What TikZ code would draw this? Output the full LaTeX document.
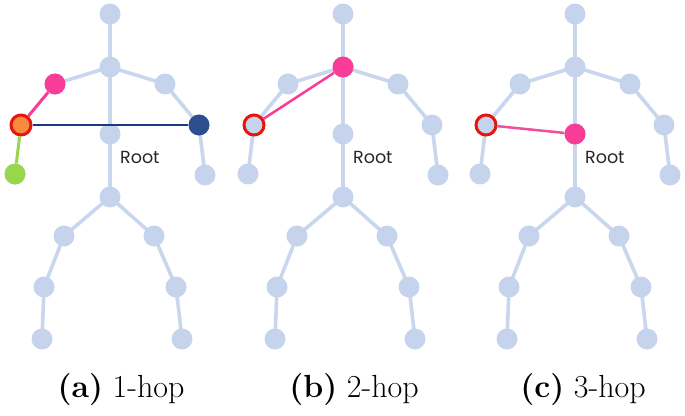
\documentclass[tikz,border=0pt]{standalone}
\usepackage{fontspec}
\newfontfamily\rootfont{Poppins}
\usetikzlibrary{backgrounds}
\definecolor{jointc}{HTML}{C5D4EC}
\definecolor{bonec}{HTML}{C8D6EE}
\definecolor{pinkc}{HTML}{F83D98}
\definecolor{orangec}{HTML}{F58B3C}
\definecolor{redc}{HTML}{E8150F}
\definecolor{navyn}{HTML}{2C4E8E}
\definecolor{navyl}{HTML}{1B3882}
\definecolor{greenc}{HTML}{98D64C}
\definecolor{pinkl}{HTML}{EE4F9C}
\tikzset{
  joint/.style={circle, fill=jointc, minimum size=21pt, inner sep=0pt},
  hlring/.style={circle, draw=redc, line width=3pt, minimum size=20pt, inner sep=0pt},
  bone/.style={draw=bonec, line width=3.6pt},
  rootlbl/.style={font=\rootfont\fontsize{17.5}{20}\selectfont, text=black!85, anchor=west, inner sep=0pt},
  caplbl/.style={font=\fontsize{32}{38}\selectfont, anchor=base, inner sep=0pt},
}
% #1 prefix, #2 x of spine
\newcommand\skelnodes[2]{%
  \node[joint] (#1head) at (#2+0,14) {};
  \node[joint] (#1neck) at (#2+0,67) {};
  \node[joint] (#1lsh)  at (#2-55,84) {};
  \node[joint] (#1rsh)  at (#2+55,84) {};
  \node[joint] (#1rel)  at (#2+89,125) {};
  \node[joint] (#1lha)  at (#2-95,174) {};
  \node[joint] (#1rha)  at (#2+95,175) {};
  \node[joint] (#1root) at (#2+0,134) {};
  \node[joint] (#1hip)  at (#2+0,197) {};
  \node[joint] (#1lkn)  at (#2-46,236) {};
  \node[joint] (#1rkn)  at (#2+44,236) {};
  \node[joint] (#1lan)  at (#2-66,287) {};
  \node[joint] (#1ran)  at (#2+66,287) {};
  \node[joint] (#1lft)  at (#2-68,339) {};
  \node[joint] (#1rft)  at (#2+72,339) {};
  \node[rootlbl] (#1txt) at (#2+10,157) {Root};
}
\newcommand\skelbones[1]{%
  \begin{scope}[on background layer]
    \draw[bone] (#1head.center) -- (#1neck.center) -- (#1root.center) -- (#1hip.center);
    \draw[bone] (#1neck.center) -- (#1lsh.center);
    \draw[bone] (#1neck.center) -- (#1rsh.center) -- (#1rel.center) -- (#1rha.center);
    \draw[bone] (#1hip.center) -- (#1lkn.center) -- (#1lan.center) -- (#1lft.center);
    \draw[bone] (#1hip.center) -- (#1rkn.center) -- (#1ran.center) -- (#1rft.center);
  \end{scope}
}
\begin{document}
\begin{tikzpicture}[x=1pt,y=-1pt]
\useasboundingbox (0,0) rectangle (685,415);
% ---------- (a) ----------
\skelnodes{a}{110}
\node[hlring, fill=orangec] (alel) at (110-89,125) {};
\skelbones{a}
\node[joint, fill=pinkc] at (alsh) {};
\node[joint, fill=greenc] at (alha) {};
\node[joint, fill=navyn] at (arel) {};
\draw[pinkc, line width=3pt] (alsh) -- (alel);
\draw[greenc, line width=3pt] (alel) -- (alha);
\draw[navyl, line width=2.5pt] (alel) -- (arel);
\node[caplbl] (capa) at (121,397) {\textbf{(a)} 1-hop};
% ---------- (b) ----------
\skelnodes{b}{343}
\node[hlring, fill=jointc] (blel) at (343-89,125) {};
\skelbones{b}
\begin{scope}[on background layer]
  \draw[bone] (blsh.center) -- (blel.center) -- (blha.center);
\end{scope}
\node[joint, fill=pinkc] at (bneck) {};
\draw[pinkc, line width=2.5pt] (bneck) -- (blel);
\node[caplbl] (capb) at (354,397) {\textbf{(b)} 2-hop};
% ---------- (c) ----------
\skelnodes{c}{575}
\node[hlring, fill=jointc] (clel) at (575-89,125) {};
\skelbones{c}
\begin{scope}[on background layer]
  \draw[bone] (clsh.center) -- (clel.center) -- (clha.center);
\end{scope}
\node[joint, fill=pinkc] at (croot) {};
\draw[pinkl, line width=2.5pt] (croot) -- (clel);
\node[caplbl] (capc) at (583,397) {\textbf{(c)} 3-hop};
\end{tikzpicture}
\end{document}
